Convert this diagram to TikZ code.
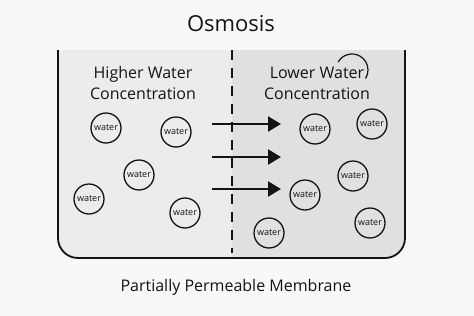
\documentclass[tikz,border=0pt]{standalone}
\usepackage{fontspec}
\setmainfont{Open Sans}
\usepackage{xcolor}
\usetikzlibrary{arrows.meta, positioning, calc}

\definecolor{paper}{HTML}{F8F8F8}
\definecolor{highside}{HTML}{ECECEC}
\definecolor{lowside}{HTML}{E0E0E0}
\definecolor{ink}{HTML}{141414}

\begin{document}
\begin{tikzpicture}[
x=1pt, y=-1pt,
every node/.style={text=ink},
heading/.style={font=\fontsize{22}{25}\selectfont},
sidelabel/.style={align=center, font=\fontsize{16}{21}\selectfont},
molecule/.style={draw=ink, circle, line width=1.3pt, minimum size=30pt, inner sep=0pt, font=\fontsize{9}{10}\selectfont},
flow/.style={draw=ink, line width=2.4pt, -{Triangle[length=13pt, width=15pt]}}
]

\fill[paper] (0,0) rectangle (474,316);
\useasboundingbox (0,0) rectangle (474,316);

% container, two sides
\fill[lowside, rounded corners=20pt] (58,50) -- (58,258) -- (405,258) -- (405,50);
\begin{scope}
\clip (0,0) rectangle (232,316);
\fill[highside, rounded corners=20pt] (58,50) -- (58,258) -- (405,258) -- (405,50);
\end{scope}
\draw[ink, line width=1.8pt, rounded corners=20pt] (58,50) -- (58,258) -- (405,258) -- (405,50);

% membrane
\coordinate (mtop) at (232,50);
\coordinate (mbot) at (232,253);
\draw[ink, line width=1.8pt, dash pattern=on 10pt off 8pt] (mtop) -- (mbot);

\node[heading] (title) at (231,24) {Osmosis};

\node[sidelabel] (high) at (143,83) {Higher Water\\Concentration};
\node[sidelabel] (low) at (317,83) {Lower Water\\Concentration};

\draw[ink, line width=1.2pt] (352,70) ++(210:16) arc[start angle=210, end angle=392, radius=16];

% water on the left
\node[molecule] (w1) at (106,128) {water};
\node[molecule] (w2) at (176,132) {water};
\node[molecule] (w3) at (139,175) {water};
\node[molecule] (w4) at (89,199) {water};
\node[molecule] (w5) at (185,213) {water};

% water on the right
\node[molecule] (w6) at (315,129) {water};
\node[molecule] (w7) at (372,124) {water};
\node[molecule] (w8) at (353,176) {water};
\node[molecule] (w9) at (305,195) {water};
\node[molecule] (w10) at (370,223) {water};
\node[molecule] (w11) at (269,233) {water};

% flow across
\coordinate (a1) at (212,124);
\coordinate (b1) at (281,124);
\coordinate (a2) at (212,157);
\coordinate (b2) at (281,157);
\coordinate (a3) at (212,189);
\coordinate (b3) at (281,189);
\draw[flow] (a1) -- (b1);
\draw[flow] (a2) -- (b2);
\draw[flow] (a3) -- (b3);

\node[sidelabel] (membrane) at (236,287) {Partially Permeable Membrane};

\end{tikzpicture}
\end{document}
